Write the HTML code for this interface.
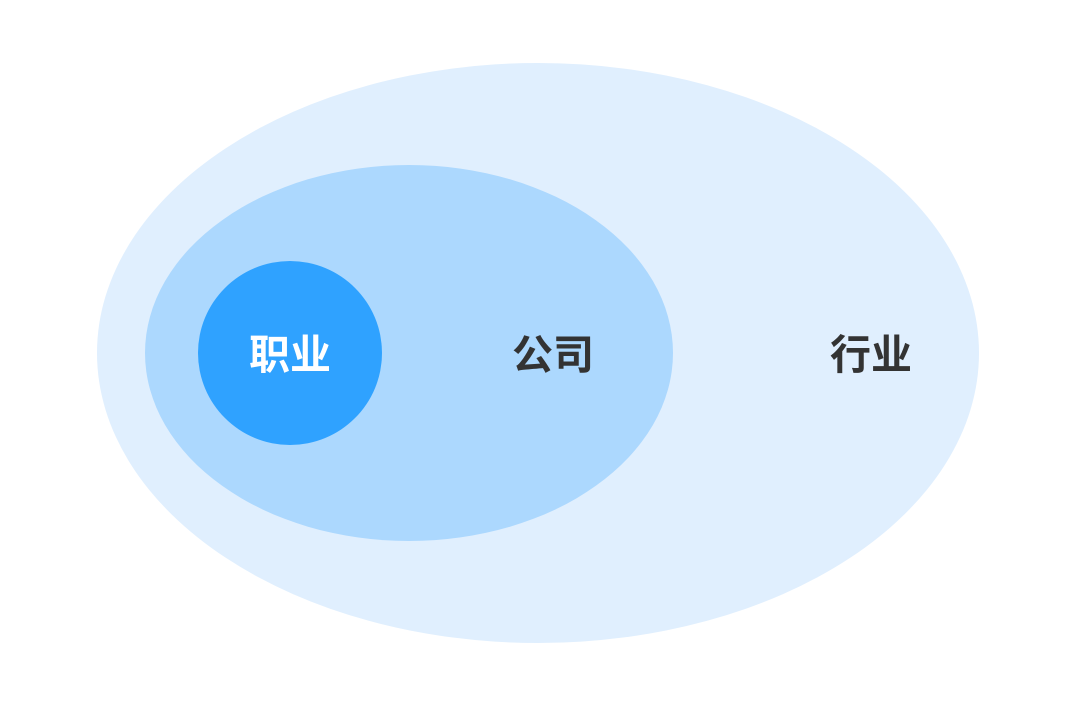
<!DOCTYPE html>
<html><head><meta charset="utf-8"><style>
html,body{margin:0;padding:0;background:#fff;}
</style></head><body>
<svg width="1080" height="698" viewBox="0 0 1080 698" xmlns="http://www.w3.org/2000/svg">
<rect width="1080" height="698" fill="#fff"/>
<ellipse cx="538" cy="353" rx="441" ry="290" fill="#e0effe"/>
<ellipse cx="409" cy="353" rx="264" ry="188" fill="#acd8fe"/>
<circle cx="290" cy="353" r="92" fill="#2fa2ff"/>
<g font-family="Liberation Sans, Noto Sans CJK SC, sans-serif" font-weight="bold" font-size="41" text-anchor="middle">
<text x="290" y="369" fill="#fff">职业</text>
<text x="553" y="369" fill="#333">公司</text>
<text x="871" y="369" fill="#333">行业</text>
</g>
</svg>
</body></html>
